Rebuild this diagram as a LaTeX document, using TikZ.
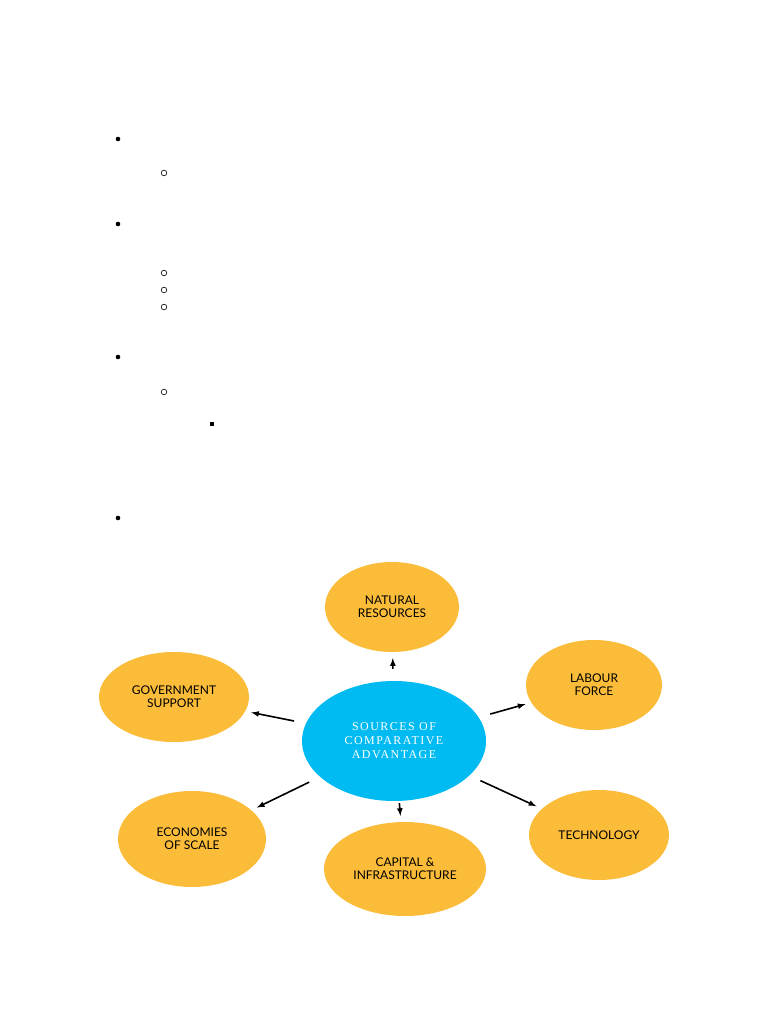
\documentclass[tikz,border=0pt]{standalone}
\usepackage{fontspec}
\setmainfont{Lato}
\newfontfamily\capsfont[LetterSpace=12]{Liberation Serif}
\usetikzlibrary{shapes.geometric}
\definecolor{petal}{HTML}{FBBC3A}
\definecolor{hub}{HTML}{00BAF2}
\tikzset{
  petal/.style={ellipse, fill=petal, align=center, inner sep=0pt, font=\fontsize{12}{13}\selectfont},
  link/.style={-latex, line width=1.6pt, shorten <=12pt, shorten >=6pt},
}
\begin{document}
\begin{tikzpicture}[x=1pt,y=-1pt]
        \useasboundingbox (0,0) rectangle (768,1024);
        % bullets
        \foreach \yy in {139,224,357,518} \fill (118,\yy) circle (2.3);
        \foreach \yy in {173,273,290,307,392} \draw[line width=0.6pt] (164,\yy) circle (2.8);
        \fill (210,422) rectangle (214,426);
        
        % Hub
        \node[ellipse, fill=hub, minimum width=184pt, minimum height=120pt, align=center, text=white, font=\capsfont\fontsize{12}{14}\selectfont] (hub) at (394,741) {SOURCES OF\\COMPARATIVE\\ADVANTAGE};
        
        % Petals
        \node[petal, minimum width=134pt, minimum height=90pt] (natural) at (392,607) {NATURAL\\RESOURCES};
        \node[petal, minimum width=136pt, minimum height=90pt] (labour) at (594,685) {LABOUR\\FORCE};
        \node[petal, minimum width=150pt, minimum height=90pt] (govt) at (174,697) {GOVERNMENT\\SUPPORT};
        \node[petal, minimum width=148pt, minimum height=96pt] (scale) at (192,839) {ECONOMIES\\OF SCALE};
        \node[petal, minimum width=140pt, minimum height=90pt] (tech) at (599,835) {TECHNOLOGY};
        \node[petal, minimum width=162pt, minimum height=94pt] (capital) at (405,869) {CAPITAL \&\\INFRASTRUCTURE};
        
        % Arrows
        \draw[link] (hub) -- (natural);
        \draw[link] (hub) -- (labour);
        \draw[link] (hub) -- (govt);
        \draw[link] (hub) -- (scale);
        \draw[link] (hub) -- (tech);
        \draw[link, shorten <=2pt] (hub) -- (capital);
\end{tikzpicture}
\end{document}
